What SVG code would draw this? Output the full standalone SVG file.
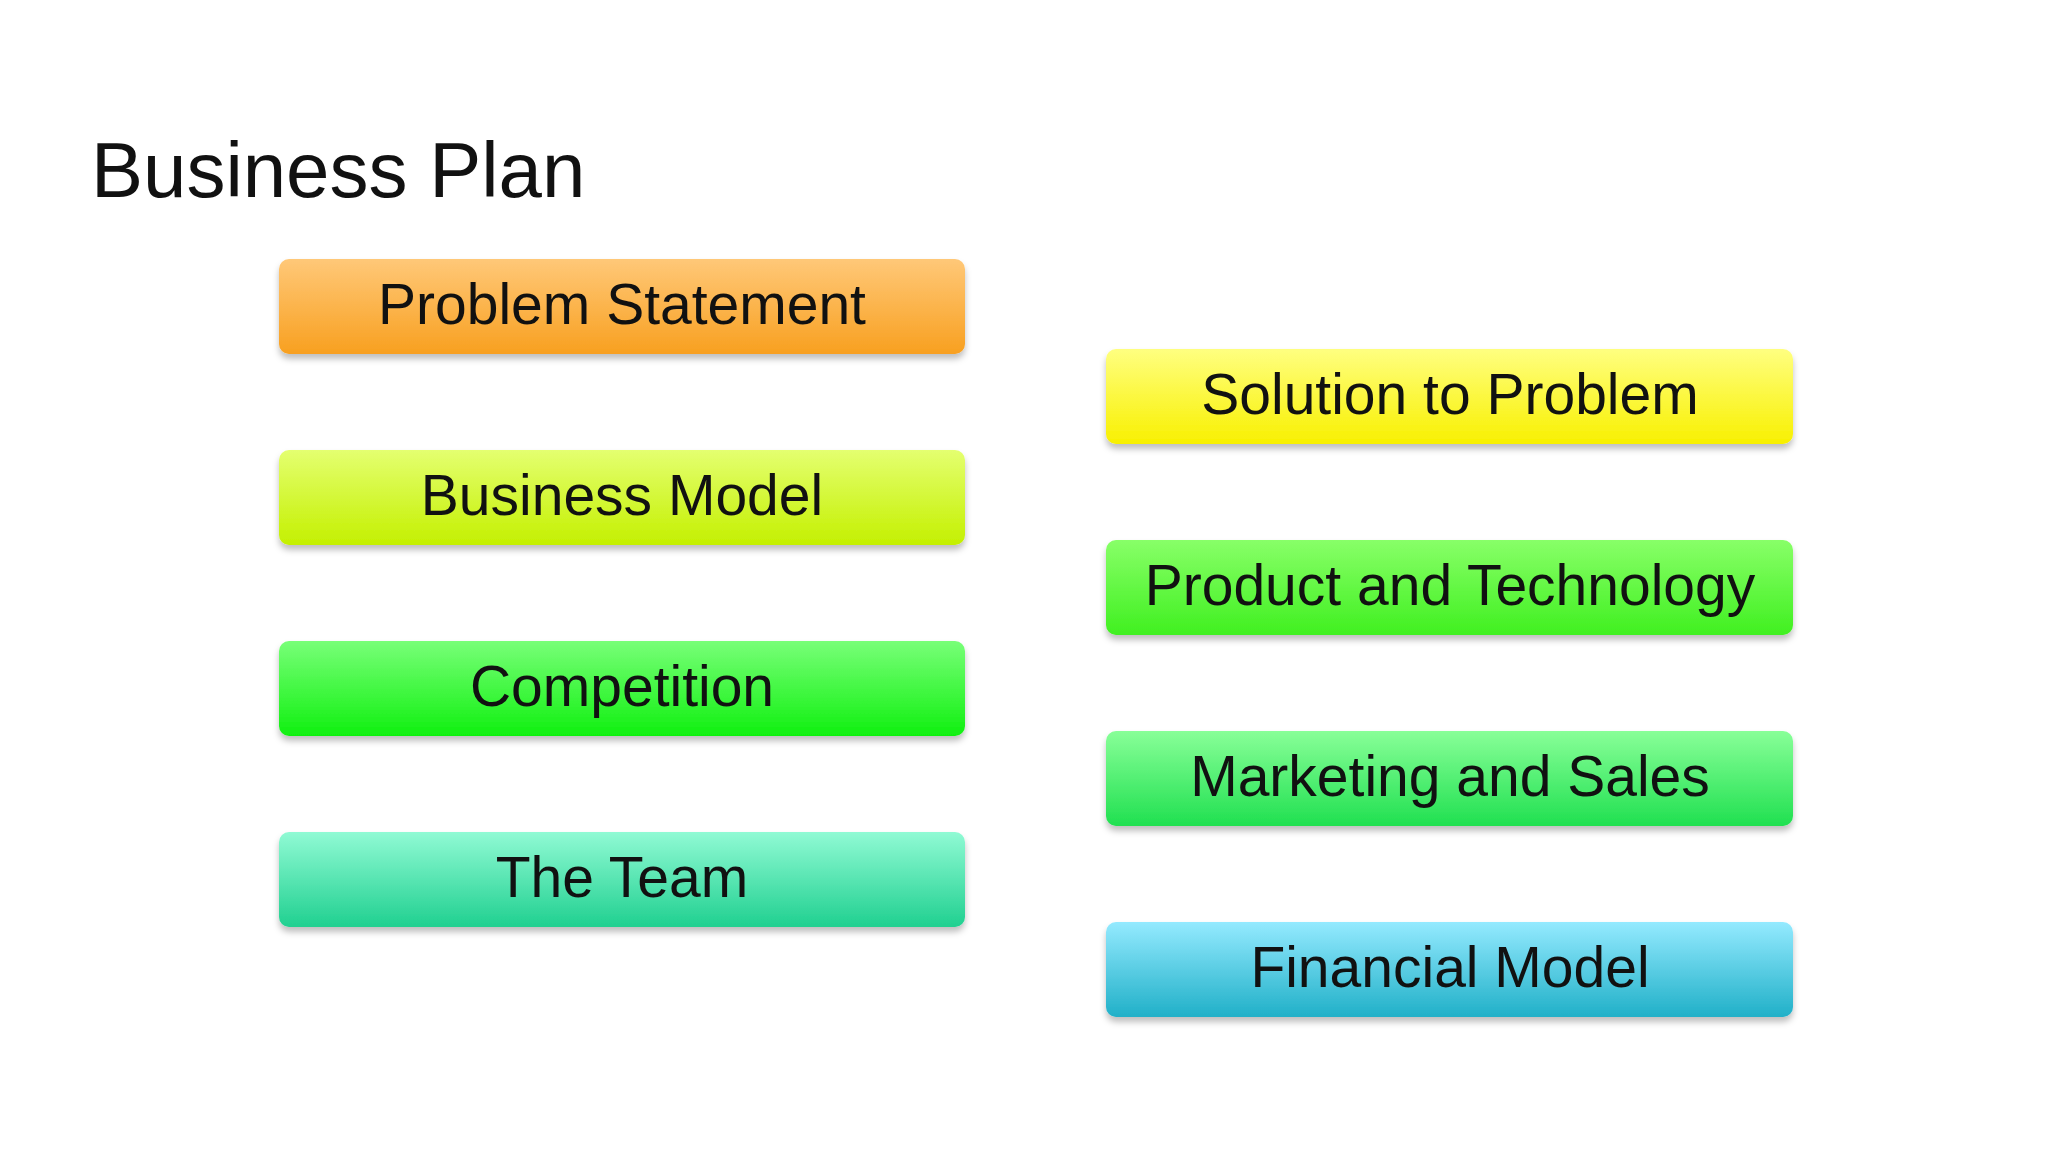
<svg xmlns="http://www.w3.org/2000/svg" width="2048" height="1152" viewBox="0 0 2048 1152">
<defs>
<linearGradient id="g1" x1="0" y1="0" x2="0" y2="1"><stop offset="0" stop-color="#FFC878"/><stop offset="1" stop-color="#F8A020"/></linearGradient>
<linearGradient id="g2" x1="0" y1="0" x2="0" y2="1"><stop offset="0" stop-color="#E4FF70"/><stop offset="1" stop-color="#C4F000"/></linearGradient>
<linearGradient id="g3" x1="0" y1="0" x2="0" y2="1"><stop offset="0" stop-color="#78FF78"/><stop offset="1" stop-color="#10F010"/></linearGradient>
<linearGradient id="g4" x1="0" y1="0" x2="0" y2="1"><stop offset="0" stop-color="#90FAD4"/><stop offset="1" stop-color="#20D090"/></linearGradient>
<linearGradient id="g5" x1="0" y1="0" x2="0" y2="1"><stop offset="0" stop-color="#FFFF80"/><stop offset="1" stop-color="#F8F000"/></linearGradient>
<linearGradient id="g6" x1="0" y1="0" x2="0" y2="1"><stop offset="0" stop-color="#88FF68"/><stop offset="1" stop-color="#40F020"/></linearGradient>
<linearGradient id="g7" x1="0" y1="0" x2="0" y2="1"><stop offset="0" stop-color="#88FF98"/><stop offset="1" stop-color="#20E050"/></linearGradient>
<linearGradient id="g8" x1="0" y1="0" x2="0" y2="1"><stop offset="0" stop-color="#94EAFF"/><stop offset="1" stop-color="#20B0C8"/></linearGradient>
<filter id="sh" x="-5%" y="-20%" width="110%" height="150%"><feDropShadow dx="0" dy="5" stdDeviation="3" flood-color="#000" flood-opacity="0.25"/></filter>
</defs>
<style>
.b{filter:url(#sh)}
.t{font-family:"Liberation Sans",Arial,sans-serif;font-size:57px;fill:#111;text-anchor:middle}
</style>
<rect width="2048" height="1152" fill="#fff"/>
<text x="91" y="197" font-family="Liberation Sans, Arial, sans-serif" font-size="78" fill="#111">Business Plan</text>
<g id="n1"><rect class="b" x="279" y="259" width="686" height="95" rx="10" fill="url(#g1)"/><text class="t" x="622" y="324">Problem Statement</text></g>
<g id="n2"><rect class="b" x="279" y="450" width="686" height="95" rx="10" fill="url(#g2)"/><text class="t" x="622" y="515">Business Model</text></g>
<g id="n3"><rect class="b" x="279" y="641" width="686" height="95" rx="10" fill="url(#g3)"/><text class="t" x="622" y="706">Competition</text></g>
<g id="n4"><rect class="b" x="279" y="832" width="686" height="95" rx="10" fill="url(#g4)"/><text class="t" x="622" y="897">The Team</text></g>
<g id="n5"><rect class="b" x="1106" y="349" width="687" height="95" rx="10" fill="url(#g5)"/><text class="t" x="1450" y="414">Solution to Problem</text></g>
<g id="n6"><rect class="b" x="1106" y="540" width="687" height="95" rx="10" fill="url(#g6)"/><text class="t" x="1450" y="605">Product and Technology</text></g>
<g id="n7"><rect class="b" x="1106" y="731" width="687" height="95" rx="10" fill="url(#g7)"/><text class="t" x="1450" y="796">Marketing and Sales</text></g>
<g id="n8"><rect class="b" x="1106" y="922" width="687" height="95" rx="10" fill="url(#g8)"/><text class="t" x="1450" y="987">Financial Model</text></g>
<g id="connectors"/>
</svg>
